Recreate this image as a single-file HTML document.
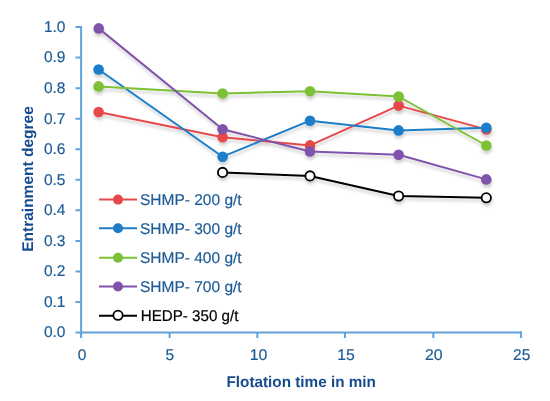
<!DOCTYPE html>
<html><head><meta charset="utf-8">
<style>
html,body{margin:0;padding:0;background:#fff;}
body{width:550px;height:401px;overflow:hidden;}
svg{display:block;}
text{font-family:"Liberation Sans",sans-serif;text-rendering:geometricPrecision;}
</style></head>
<body>
<svg width="550" height="401" viewBox="0 0 550 401">
<defs>
<filter id="sh" x="-20%" y="-20%" width="140%" height="160%">
<feDropShadow dx="0.5" dy="3" stdDeviation="1.6" flood-color="#000" flood-opacity="0.19"/>
</filter>
</defs>
<rect width="550" height="401" fill="#fff"/>

<!-- axes -->
<g stroke="#62A3DD" stroke-width="2" fill="none">
<path d="M81.1 26.1V333.5"/>
<path d="M75.5 332.5H522"/>
<path d="M75.5 27.1H81.1M75.5 57.6H81.1M75.5 88.2H81.1M75.5 118.7H81.1M75.5 149.3H81.1M75.5 179.8H81.1M75.5 210.3H81.1M75.5 240.9H81.1M75.5 271.4H81.1M75.5 302H81.1"/>
<path d="M81.1 332.5V338M169.6 332.5V338M257.4 332.5V338M345 332.5V338M433.3 332.5V338M521.1 331.5V338"/>
</g>

<!-- y labels -->
<g fill="#1F5C96" stroke="#1F5C96" stroke-width="0.2" font-size="15.5" text-anchor="end">
<text x="65.5" y="31.9">1.0</text>
<text x="65.5" y="62.4">0.9</text>
<text x="65.5" y="93">0.8</text>
<text x="65.5" y="123.5">0.7</text>
<text x="65.5" y="154.1">0.6</text>
<text x="65.5" y="184.6">0.5</text>
<text x="65.5" y="215.1">0.4</text>
<text x="65.5" y="245.7">0.3</text>
<text x="65.5" y="276.2">0.2</text>
<text x="65.5" y="306.8">0.1</text>
<text x="65.5" y="337.3">0.0</text>
</g>
<!-- x labels -->
<g fill="#1F5C96" stroke="#1F5C96" stroke-width="0.2" font-size="15.5" text-anchor="middle">
<text x="82" y="360">0</text>
<text x="169.8" y="360">5</text>
<text x="258.6" y="360" textLength="17.6" lengthAdjust="spacingAndGlyphs">10</text>
<text x="346.1" y="360" textLength="17.6" lengthAdjust="spacingAndGlyphs">15</text>
<text x="433.8" y="360" textLength="17.6" lengthAdjust="spacingAndGlyphs">20</text>
<text x="521.7" y="360">25</text>
</g>

<!-- axis titles -->
<text x="301.2" y="386.8" fill="#164C8E" font-size="15.5" font-weight="bold" text-anchor="middle" textLength="149.4" lengthAdjust="spacingAndGlyphs">Flotation time in min</text>
<text transform="translate(33.2 179) rotate(-90)" fill="#164C8E" font-size="15.5" font-weight="bold" text-anchor="middle">Entrainment degree</text>

<!-- series -->
<g filter="url(#sh)" stroke-width="2" stroke-linejoin="round">
<polyline fill="none" stroke="#E54849" points="98.6,112 222.6,137.3 310,145.4 398.6,105.6 486.3,129.4"/>
<g fill="#E54849" stroke="none">
<circle cx="98.6" cy="112" r="5.3"/><circle cx="222.6" cy="137.3" r="5.3"/><circle cx="310" cy="145.4" r="5.3"/><circle cx="398.6" cy="105.6" r="5.3"/><circle cx="486.3" cy="129.4" r="5.3"/>
</g>
<polyline fill="none" stroke="#1E7DC8" points="98.6,69.5 222.6,156.7 310,120.7 398.6,130.4 486.3,127.8"/>
<g fill="#1E7DC8" stroke="none">
<circle cx="98.6" cy="69.5" r="5.3"/><circle cx="222.6" cy="156.7" r="5.3"/><circle cx="310" cy="120.7" r="5.3"/><circle cx="398.6" cy="130.4" r="5.3"/><circle cx="486.3" cy="127.8" r="5.3"/>
</g>
<polyline fill="none" stroke="#7DC036" points="98.6,86.4 222.6,93.5 310,91.2 398.6,96.5 486.3,145.5"/>
<g fill="#7DC036" stroke="none">
<circle cx="98.6" cy="86.4" r="5.3"/><circle cx="222.6" cy="93.5" r="5.3"/><circle cx="310" cy="91.2" r="5.3"/><circle cx="398.6" cy="96.5" r="5.3"/><circle cx="486.3" cy="145.5" r="5.3"/>
</g>
<polyline fill="none" stroke="#8052AA" points="98.7,28.4 222.6,129.3 310,151.5 398.6,154.7 486.3,179.4"/>
<g fill="#8052AA" stroke="none">
<circle cx="98.7" cy="28.4" r="5.3"/><circle cx="222.6" cy="129.3" r="5.3"/><circle cx="310" cy="151.5" r="5.3"/><circle cx="398.6" cy="154.7" r="5.3"/><circle cx="486.3" cy="179.4" r="5.3"/>
</g>
<polyline fill="none" stroke="#000" points="222.6,172.4 310,175.9 398.6,196 486.3,197.8"/>
<g fill="#fff" stroke="#000" stroke-width="1.8">
<circle cx="222.6" cy="172.4" r="4.65"/><circle cx="310" cy="175.9" r="4.65"/><circle cx="398.6" cy="196" r="4.65"/><circle cx="486.3" cy="197.8" r="4.65"/>
</g>
</g>

<!-- legend -->
<g stroke-width="2">
<path d="M99 199.6H137" stroke="#E54849"/><circle cx="118" cy="199.6" r="5" fill="#E54849"/>
<path d="M99 228.3H137" stroke="#1E7DC8"/><circle cx="118" cy="228.3" r="5" fill="#1E7DC8"/>
<path d="M99 257.7H137" stroke="#7DC036"/><circle cx="118" cy="257.7" r="5" fill="#7DC036"/>
<path d="M99 286.5H137" stroke="#8052AA"/><circle cx="118" cy="286.5" r="5" fill="#8052AA"/>
<path d="M99 315.8H137" stroke="#000"/><circle cx="118" cy="315.3" r="4.65" fill="#fff" stroke="#000" stroke-width="1.8"/>
</g>
<g font-size="15.5" fill="#1F5C96" stroke="#1F5C96" stroke-width="0.2">
<text x="140" y="205.3">SHMP- 200 g/t</text>
<text x="140" y="234.2">SHMP- 300 g/t</text>
<text x="140" y="263.1">SHMP- 400 g/t</text>
<text x="140" y="292">SHMP- 700 g/t</text>
<text x="140.7" y="320.9" fill="#000" stroke="#000" textLength="97.8" lengthAdjust="spacingAndGlyphs">HEDP- 350 g/t</text>
</g>
</svg>
</body></html>
